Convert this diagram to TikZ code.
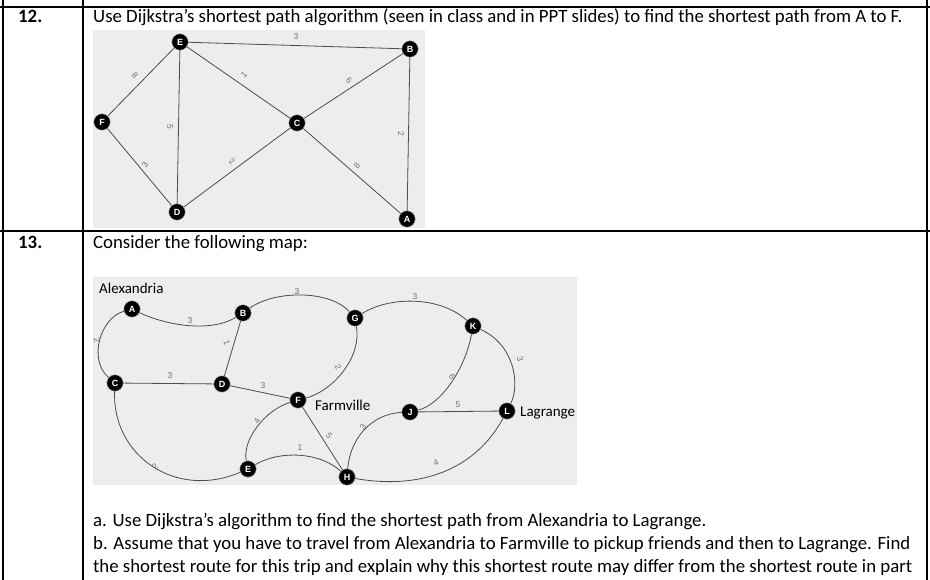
\documentclass[tikz,border=0pt]{standalone}
\usepackage{fontspec}
\setmainfont{Carlito}
\newfontfamily\lblfont{Liberation Sans}
\begin{document}
\begin{tikzpicture}[x=1pt,y=-1pt,
  vtx/.style={circle,fill=black,draw=gray!60,line width=0.4pt,inner sep=0pt,minimum size=16.5pt,text=white,font=\lblfont\bfseries\fontsize{9}{9}\selectfont},
  edge/.style={draw=black!70,line width=0.8pt},
  wt/.style={text=black!55,font=\lblfont\fontsize{8.5}{8.5}\selectfont,inner sep=0pt},
  body/.style={font=\fontsize{18.8}{20}\selectfont,anchor=base west,inner sep=0pt},
  place/.style={font=\fontsize{15}{15}\selectfont,anchor=west,inner sep=0pt},
  rule/.style={line width=1.1pt}]
\useasboundingbox (0,0) rectangle (930,580);
% table
\draw[rule] (0,7) -- (930,7);
\draw[rule] (0,231) -- (930,231);
\draw[rule] (3,0) -- (3,580);
\draw[rule] (83,0) -- (83,580);
\draw[rule] (927,0) -- (927,580);
\node[body,font=\bfseries\fontsize{18.8}{20}\selectfont] (n12) at (18,23) {12.};
\node[body] (q12) at (93,23) {Use Dijkstra’s shortest path algorithm (seen in class and in PPT slides) to find the shortest path from A to F.};
\node[body,font=\bfseries\fontsize{18.8}{20}\selectfont] (n13) at (18,249) {13.};
\node[body] (q13) at (93,249) {Consider the following map:};
\node[body] (qa) at (93,526) {a. Use Dijkstra’s algorithm to find the shortest path from Alexandria to Lagrange.};
\node[body] (qb) at (93,549) {b. Assume that you have to travel from Alexandria to Farmville to pickup friends and then to Lagrange. Find};
\node[body] (qc) at (93,572) {the shortest route for this trip and explain why this shortest route may differ from the shortest route in part};
% graph 1
\fill[black!7] (93,30) rectangle (425,228);
\coordinate (E1) at (180,42);
\coordinate (B1) at (410,49);
\coordinate (F1) at (102,122);
\coordinate (C1) at (297,123);
\coordinate (D1) at (177,212);
\coordinate (A1) at (407,219);
\path[edge] (E1) -- (B1) (E1) -- (F1) (E1) -- (D1) (E1) -- (C1) (F1) -- (D1) (D1) -- (C1) (C1) -- (B1) (C1) -- (A1) (B1) -- (A1);
\node[vtx] (nE1) at (E1) {E};\node[vtx] (nB1) at (B1) {B};\node[vtx] (nF1) at (F1) {F};
\node[vtx] (nC1) at (C1) {C};\node[vtx] (nD1) at (D1) {D};\node[vtx] (nA1) at (A1) {A};
\node[wt] (w1) at (296,37) {3};
\node[wt,rotate=-50] (w2) at (135,75) {8};
\node[wt,rotate=-90] (w3) at (170,127) {5};
\node[wt,rotate=45] (w4) at (244,75) {1};
\node[wt,rotate=-35] (w5) at (349,80) {6};
\node[wt,rotate=-90] (w6) at (401,134) {2};
\node[wt,rotate=55] (w7) at (145,165) {3};
\node[wt,rotate=-35] (w8) at (232,161) {2};
\node[wt,rotate=45] (w9) at (357,166) {8};
% map
\fill[black!7] (93,277) rectangle (577,485);
\node[vtx] (A) at (132,309) {A};
\node[vtx] (B) at (243,313) {B};
\node[vtx] (G) at (355,318) {G};
\node[vtx] (K) at (473,326) {K};
\node[vtx] (C) at (115,383) {C};
\node[vtx] (D) at (222,384) {D};
\node[vtx] (F) at (298,400) {F};
\node[vtx] (J) at (410,412) {J};
\node[vtx] (L) at (507,411) {L};
\node[vtx] (E) at (248,469) {E};
\node[vtx] (H) at (347,477) {H};
\draw[edge] (A) .. controls (165,325) and (210,333) .. (B);
\draw[edge] (A) .. controls (100,318) and (88,360) .. (C);
\draw[edge] (B) .. controls (275,290) and (330,290) .. (G);
\draw[edge] (G) .. controls (390,296) and (440,296) .. (K);
\draw[edge] (K) .. controls (515,345) and (520,385) .. (L);
\draw[edge] (K) .. controls (465,370) and (440,405) .. (J);
\draw[edge] (G) .. controls (362,360) and (330,392) .. (F);
\draw[edge] (F) .. controls (265,410) and (242,440) .. (E);
\draw[edge] (E) .. controls (280,450) and (320,452) .. (H);
\draw[edge] (C) .. controls (112,455) and (175,500) .. (E);
\draw[edge] (H) .. controls (350,440) and (370,414) .. (J);
\draw[edge] (H) .. controls (420,490) and (475,470) .. (L);
\draw[edge] (C) -- (D);
\draw[edge] (B) -- (D);
\draw[edge] (D) -- (F);
\draw[edge] (F) -- (H);
\draw[edge] (J) -- (L);
\node[wt] at (190,321) {3};
\node[wt,rotate=-80] at (97,340) {2};
\node[wt] at (297,292) {3};
\node[wt] at (415,297) {3};
\node[wt,rotate=-75] at (520,359) {3};
\node[wt,rotate=-55] at (452,377) {6};
\node[wt] at (170,376) {3};
\node[wt,rotate=-70] at (227,343) {1};
\node[wt] at (263,386) {3};
\node[wt,rotate=-60] at (338,367) {2};
\node[wt,rotate=60] at (257,421) {4};
\node[wt,rotate=-55] at (329,436) {5};
\node[wt] at (300,448) {1};
\node[wt,rotate=40] at (155,467) {2};
\node[wt,rotate=55] at (363,427) {3};
\node[wt] at (458,405) {5};
\node[wt,rotate=30] at (436,463) {4};
\node[place] (alx) at (99,288) {Alexandria};
\node[place] (frm) at (315,405) {Farmville};
\node[place] (lag) at (520,413) {Lagrange};
\end{tikzpicture}
\end{document}
